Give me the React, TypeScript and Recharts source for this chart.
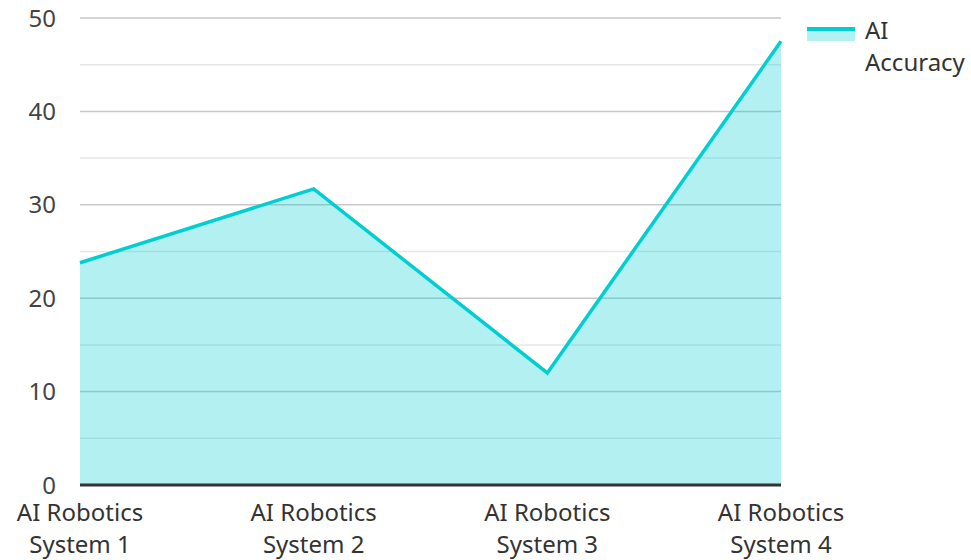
import { AreaChart, Area, XAxis, YAxis, CartesianGrid } from "recharts";

const systems = ["AI Robotics System 1", "AI Robotics System 2", "AI Robotics System 3", "AI Robotics System 4"];
const accuracy = [23.8, 31.7, 12.0, 47.5];
const yTicks = [0, 5, 10, 15, 20, 25, 30, 35, 40, 45, 50];

const data = systems.map((name, i) => ({ name, accuracy: accuracy[i] }));

const TEAL = "#00CED1";
const FONT = "'Noto Sans', 'Open Sans', sans-serif";

function XTick({ x, y, payload }: any) {
  const words = String(payload.value).split(" ");
  const first = words.slice(0, 2).join(" ");
  const second = words.slice(2).join(" ");
  return (
    <text x={x} y={y} textAnchor="middle" fill="#333" fontSize={24} fontFamily={FONT}>
      <tspan x={x} dy={28}>{first}</tspan>
      <tspan x={x} dy={32}>{second}</tspan>
    </text>
  );
}

function GridLine(props: any) {
  const { x1, x2, y1, y2, index } = props;
  const major = index % 2 === 0;
  return (
    <line
      key={`g-${index}`}
      x1={x1}
      x2={x2}
      y1={y1}
      y2={y2}
      stroke={major ? "#c8c8c8" : "#e6e6e6"}
      strokeWidth={1.5}
    />
  );
}

function LegendBox() {
  return (
    <div
      style={{
        position: "absolute",
        left: 806,
        top: 0,
        display: "flex",
        alignItems: "flex-start",
        fontFamily: FONT,
        fontSize: 24,
        color: "#333",
      }}
    >
      <svg width={50} height={24} style={{ marginTop: 17, marginRight: 9 }}>
        <rect x={1} y={12} width={48} height={12} fill={TEAL} fillOpacity={0.3} />
        <line x1={1} x2={49} y1={12} y2={12} stroke={TEAL} strokeWidth={4} />
      </svg>
      <div style={{ lineHeight: "32px", paddingTop: 14 }}>
        AI
        <br />
        Accuracy
      </div>
    </div>
  );
}

export default function App() {
  return (
    <div style={{ position: "absolute", left: 0, top: 0, width: 971, height: 560, background: "#fff" }}>
      <AreaChart width={971} height={560} data={data} margin={{ top: 18, right: 190, bottom: 0, left: 0 }}>
        <CartesianGrid vertical={false} horizontal={GridLine as any} />
        <XAxis
          dataKey="name"
          tick={<XTick />}
          tickLine={false}
          axisLine={{ stroke: "#333", strokeWidth: 3 }}
          interval={0}
          height={75}
        />
        <YAxis
          domain={[0, 50]}
          ticks={yTicks}
          interval={0}
          width={80}
          tickLine={false}
          axisLine={false}
          tickMargin={18}
          tickFormatter={(v: number) => (v % 10 === 0 ? String(v) : "")}
          tick={{ fontSize: 24, fill: "#444", fontFamily: FONT }}
        />
        <Area
          type="linear"
          dataKey="accuracy"
          name="AI Accuracy"
          stroke={TEAL}
          strokeWidth={3.5}
          fill={TEAL}
          fillOpacity={0.3}
          isAnimationActive={false}
        />
      </AreaChart>
      <LegendBox />
    </div>
  );
}
